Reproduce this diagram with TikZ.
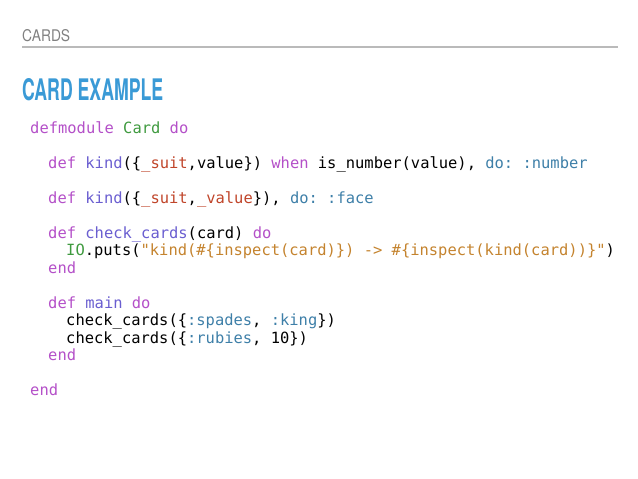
\documentclass[tikz,border=0pt]{standalone}
\usepackage{fontspec}
\setmainfont{TeX Gyre Heros}
\setmonofont{DejaVu Sans Mono}
\usepackage{tikz}
\definecolor{kwcol}{HTML}{B450C8}
\definecolor{fncol}{HTML}{6A5ED0}
\definecolor{mdcol}{HTML}{3F9A3F}
\definecolor{atcol}{HTML}{3E7FA8}
\definecolor{stcol}{HTML}{C4832E}
\definecolor{vrcol}{HTML}{C0452A}
\definecolor{titlecol}{HTML}{3A9AD6}
\newcommand{\kw}[1]{\textcolor{kwcol}{#1}}
\newcommand{\fn}[1]{\textcolor{fncol}{#1}}
\newcommand{\md}[1]{\textcolor{mdcol}{#1}}
\newcommand{\at}[1]{\textcolor{atcol}{#1}}
\newcommand{\st}[1]{\textcolor{stcol}{#1}}
\newcommand{\vr}[1]{\textcolor{vrcol}{#1}}
\tikzset{codeline/.style={anchor=base west,inner sep=0pt,font=\fontsize{15.45}{17}\selectfont\ttfamily}}
\begin{document}
\begin{tikzpicture}[x=1pt,y=-1pt]
                \useasboundingbox (0,0) rectangle (638,479);
                \node [anchor=base west,inner sep=0pt,text=gray] (sect) at (22,41)
                  {\resizebox{48pt}{12pt}{CARDS}};
                \draw [line width=1.5pt,color=black!27] (22,47) -- (618,47);
                \node [anchor=base west,inner sep=0pt,text=titlecol] (title) at (22,100)
                  {\resizebox{141pt}{22pt}{\bfseries CARD EXAMPLE}};
                \node [codeline] (l0) at (30,133) {\kw{defmodule} \md{Card} \kw{do}};
                \node [codeline] (l2) at (48,168) {\kw{def} \fn{kind}(\{\vr{\_suit},value\}) \kw{when} is\_number(value), \at{do:} \at{:number}};
                \node [codeline] (l4) at (48,203) {\kw{def} \fn{kind}(\{\vr{\_suit},\vr{\_value}\}), \at{do:} \at{:face}};
                \node [codeline] (l6) at (48,238) {\kw{def} \fn{check\_cards}(card) \kw{do}};
                \node [codeline] (l7) at (66,255.5) {\md{IO}.puts(\st{"kind(\#\{inspect(card)\}) -> \#\{inspect(kind(card))\}"})};
                \node [codeline] (l8) at (48,273) {\kw{end}};
                \node [codeline] (l10) at (48,308) {\kw{def} \fn{main} \kw{do}};
                \node [codeline] (l11) at (66,325.5) {check\_cards(\{\at{:spades}, \at{:king}\})};
                \node [codeline] (l12) at (66,343) {check\_cards(\{\at{:rubies}, 10\})};
                \node [codeline] (l13) at (48,360.5) {\kw{end}};
                \node [codeline] (l15) at (30,395.5) {\kw{end}};
\end{tikzpicture}
\end{document}
